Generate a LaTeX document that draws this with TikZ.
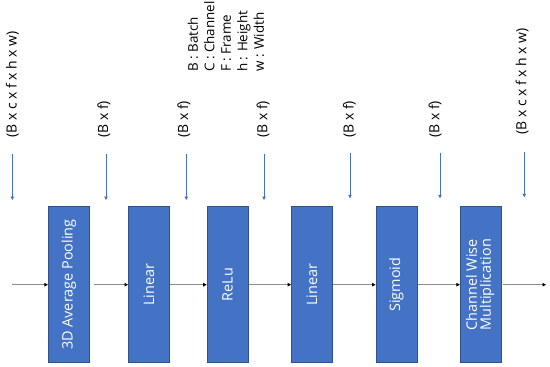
\documentclass[tikz,border=0pt]{standalone}
\usepackage{fontspec}
\setmainfont{Open Sans}
\usetikzlibrary{arrows.meta}
\definecolor{officeblue}{HTML}{4472C4}
\definecolor{blueedge}{HTML}{2F528F}
\definecolor{flowgray}{HTML}{8C8C8C}
\begin{document}
\begin{tikzpicture}[x=1pt,y=-1pt,
  block/.style={draw=blueedge,line width=0.8pt,fill=officeblue,minimum width=41pt,minimum height=156pt,inner sep=0pt,text=white,font=\fontsize{14.4}{15.6}\selectfont},
  dimlabel/.style={rotate=90,anchor=west,inner sep=0pt,font=\fontsize{14}{16}\selectfont},
  flow/.style={draw=flowgray,line width=0.8pt,-{Triangle[length=3.5pt,width=3.5pt,fill=black,color=black]}},
  feed/.style={draw=officeblue,line width=0.7pt,-{Triangle[length=3.5pt,width=3.5pt]}}]
\useasboundingbox (0,0) rectangle (550,367);
% blocks
\node[block] (b1) at (68.8,284.7) {\rotatebox{90}{3D Average Pooling}};
\node[block] (b2) at (148.9,284.7) {\rotatebox{90}{Linear}};
\node[block] (b3) at (227.6,284.7) {\rotatebox{90}{ReLu}};
\node[block] (b4) at (312,284.7) {\rotatebox{90}{Linear}};
\node[block] (b5) at (396.5,284.7) {\rotatebox{90}{Sigmoid}};
\node[block] (b6) at (480.8,284.7) {\rotatebox{90}{\begin{tabular}{@{}c@{}}Channel Wise\\[-1.5pt]Multiplication\end{tabular}}};
% flow
\coordinate (in) at (12.3,284.7);
\coordinate (out) at (546,284.7);
\draw[flow] (in) -- (b1.west);
\draw[flow,shorten <=4pt] (b1.east) -- (b2.west);
\draw[flow] (b2.east) -- (b3.west);
\draw[flow] (b3.east) -- (b4.west);
\draw[flow] (b4.east) -- (b5.west);
\draw[flow,shorten <=1pt] (b5.east) -- (b6.west);
\draw[flow,shorten <=1.5pt] (b6.east) -- (out);
% dimension labels
\node[dimlabel] (l1) at (12.5,138) {(B x c x f x h x w)};
\node[dimlabel] (l2) at (104,138) {(B x f)};
\node[dimlabel] (l3) at (184,138) {(B x f)};
\node[dimlabel] (l4) at (263,138) {(B x f)};
\node[dimlabel] (l5) at (349.5,138) {(B x f)};
\node[dimlabel] (l6) at (435,138) {(B x f)};
\node[dimlabel] (l7) at (522,135) {(B x c x f x h x w)};
% feed arrows
\foreach \i/\x/\t/\b in {1/12.3/154/200,2/106/154/200,3/186.3/154/200,4/264/154/200,5/350/153.3/198.3,6/440/153.3/198.3,7/524.3/151.7/197.3}{
  \coordinate (t\i) at (\x,\t);
  \coordinate (d\i) at (\x,\b);
  \draw[feed] (t\i) -- (d\i);
}
% legend
\node[rotate=90,anchor=north west,inner sep=0pt,align=left,font=\fontsize{13.4}{16.5}\selectfont] (legend) at (187.5,72)
  {B : Batch\\C : Channel\\F : Frame\\h : Height\\w : Width};
\end{tikzpicture}
\end{document}
